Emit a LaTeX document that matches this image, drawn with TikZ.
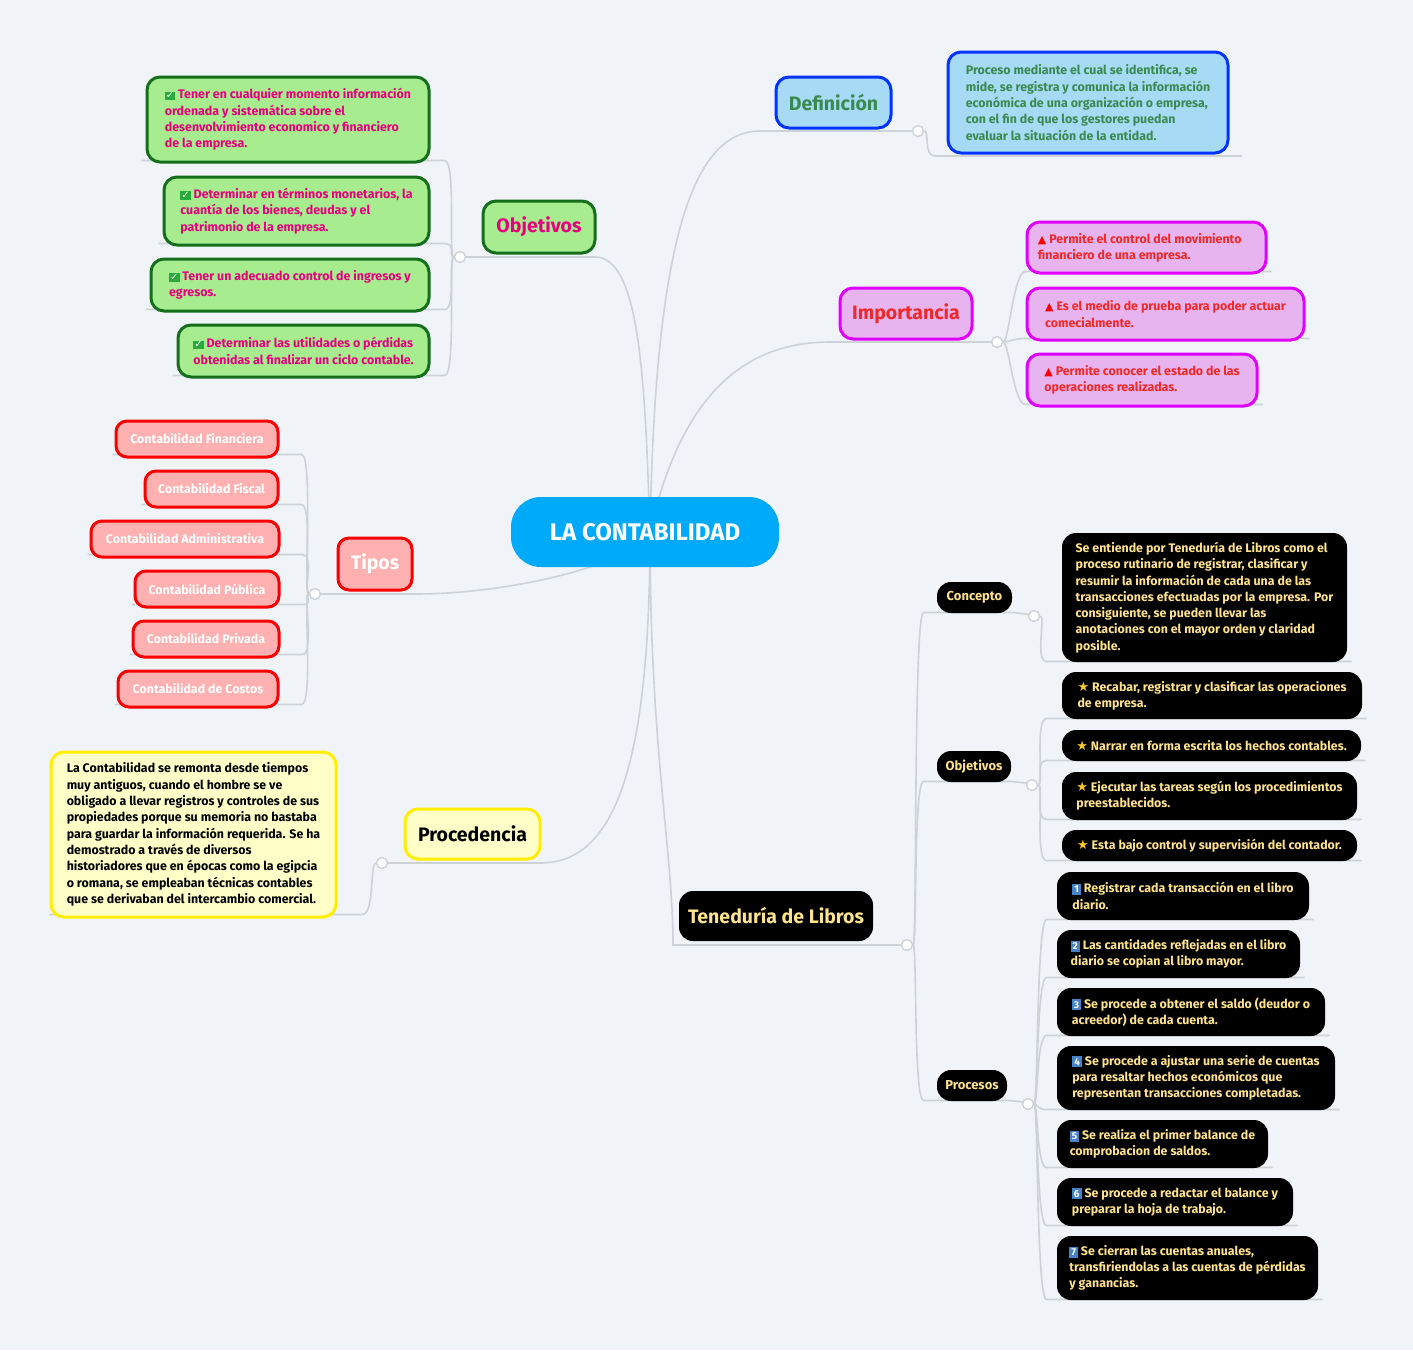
\documentclass[tikz,border=0pt]{standalone}
\usepackage{fontspec}
\setmainfont{Fira Sans}
\newfontfamily\dejavu{DejaVu Sans}
\usetikzlibrary{backgrounds}
\definecolor{bgcol}{RGB}{240,244,248}
\definecolor{linkcol}{RGB}{204,210,216}
\definecolor{centrecol}{RGB}{0,170,250}
\definecolor{deffill}{RGB}{166,218,245}
\definecolor{defline}{RGB}{0,51,255}
\definecolor{deftext}{RGB}{58,138,79}
\definecolor{impfill}{RGB}{232,180,240}
\definecolor{impline}{RGB}{224,0,255}
\definecolor{imptext}{RGB}{240,40,40}
\definecolor{objfill}{RGB}{168,236,144}
\definecolor{objline}{RGB}{20,110,26}
\definecolor{objtext}{RGB}{230,0,126}
\definecolor{tipfill}{RGB}{255,176,176}
\definecolor{tipline}{RGB}{250,0,0}
\definecolor{profill}{RGB}{255,255,200}
\definecolor{proline}{RGB}{255,238,0}
\definecolor{tentext}{RGB}{255,226,140}
\definecolor{chkgreen}{RGB}{40,170,60}
\definecolor{keyblue}{RGB}{70,130,200}
\definecolor{stargold}{RGB}{250,200,40}
\newcommand\chk{{\fboxsep=1pt\colorbox{chkgreen}{\textcolor{white}{\dejavu\fontsize{10}{10}\selectfont ✓}}}}
\newcommand\tri{\textcolor{red}{\dejavu\fontsize{11}{11}\selectfont ▲}}
\newcommand\str{\textcolor{stargold}{\dejavu\fontsize{13}{13}\selectfont ★}}
\newcommand\key[1]{{\fboxsep=2pt\colorbox{keyblue}{\textcolor{white}{\fontsize{10}{10}\selectfont #1}}}}
\tikzset{
  box/.style={rounded corners=13pt, line width=3pt, align=left, inner sep=0pt},
  small/.style={font=\fontsize{12.4}{16.3}\selectfont\bfseries},
  branch/.style={font=\fontsize{19.5}{20}\selectfont\bfseries, align=center},
  defbox/.style={box, fill=deffill, draw=defline, text=deftext},
  impbox/.style={box, fill=impfill, draw=impline, text=imptext},
  objbox/.style={box, fill=objfill, draw=objline, text=objtext},
  tipbox/.style={box, fill=tipfill, draw=tipline, text=white, rounded corners=11pt, align=center},
  probox/.style={box, fill=profill, draw=proline, text=black},
  tenbox/.style={box, fill=black, text=tentext, rounded corners=14pt},
  link/.style={draw=linkcol, line width=1.6pt},
  knot/.style={circle, draw=linkcol, fill=white, line width=1.4pt, minimum size=11pt, inner sep=0pt},
}
\begin{document}
\begin{tikzpicture}[x=1pt,y=-1pt]
\useasboundingbox (0,0) rectangle (1413,1350);
% central topic
\node[box, fill=centrecol, text=white, rounded corners=30pt, minimum width=268, minimum height=70, font=\fontsize{24}{25}\selectfont\bfseries, align=center] (main) at (645,532) {LA CONTABILIDAD};
% main branches
\node[defbox, branch, minimum width=115, minimum height=51] (def) at (833.5,102.5) {Definición};
\node[defbox, small, minimum width=280, minimum height=101] (defd) at (1088,102.5) {Proceso mediante el cual se identifica, se\\mide, se registra y comunica la información\\económica de una organización o empresa,\\con el fin de que los gestores puedan\\evaluar la situación de la entidad.};
\node[impbox, branch, minimum width=132, minimum height=51] (imp) at (906,313.5) {Importancia};
\node[impbox, small, minimum width=239, minimum height=51] (imp1) at (1146.5,247.5) {\tri\ Permite el control del movimiento\\financiero de una empresa.\hspace*{5.2em}};
\node[impbox, small, minimum width=277, minimum height=52] (imp2) at (1165.5,314) {\tri\ Es el medio de prueba para poder actuar\\comecialmente.\hspace*{12em}};
\node[impbox, small, minimum width=230, minimum height=52] (imp3) at (1142,380) {\tri\ Permite conocer el estado de las\\operaciones realizadas.\hspace*{5em}};
\node[objbox, branch, minimum width=112, minimum height=52] (obj) at (539,227) {Objetivos};
\node[objbox, small, minimum width=282, minimum height=85] (obj1) at (288,119.5) {\chk\ Tener en cualquier momento información\\ordenada y sistemática sobre el\\desenvolvimiento economico y financiero\\de la empresa.};
\node[objbox, small, minimum width=265, minimum height=68] (obj2) at (296.5,211) {\chk\ Determinar en términos monetarios, la\\cuantía de los bienes, deudas y el\\patrimonio de la empresa.};
\node[objbox, small, minimum width=278, minimum height=52] (obj3) at (290,285) {\chk\ Tener un adecuado control de ingresos y\\egresos.\hspace*{15em}};
\node[objbox, small, minimum width=251, minimum height=52] (obj4) at (303.5,351) {\chk\ Determinar las utilidades o pérdidas\\obtenidas al finalizar un ciclo contable.};
\node[tipbox, branch, minimum width=74, minimum height=52] (tip) at (375,564) {Tipos};
\node[tipbox, small, minimum width=162, minimum height=36] (tip1) at (197,439) {Contabilidad Financiera};
\node[tipbox, small, minimum width=133, minimum height=36] (tip2) at (211.5,489) {Contabilidad Fiscal};
\node[tipbox, small, minimum width=188, minimum height=36] (tip3) at (185,539) {Contabilidad Administrativa};
\node[tipbox, small, minimum width=144, minimum height=36] (tip4) at (207,589) {Contabilidad Pública};
\node[tipbox, small, minimum width=146, minimum height=36] (tip5) at (206,639) {Contabilidad Privada};
\node[tipbox, small, minimum width=160, minimum height=36] (tip6) at (198,689) {Contabilidad de Costos};
\node[probox, branch, minimum width=135, minimum height=50] (pro) at (472.5,834) {Procedencia};
\node[probox, small, minimum width=285, minimum height=165] (prod) at (193.5,834.5) {La Contabilidad se remonta desde tiempos\\muy antiguos, cuando el hombre se ve\\obligado a llevar registros y controles de sus\\propiedades porque su memoria no bastaba\\para guardar la información requerida. Se ha\\demostrado a través de diversos\\historiadores que en épocas como la egipcia\\o romana, se empleaban técnicas contables\\que se derivaban del intercambio comercial.};
\node[tenbox, branch, minimum width=194, minimum height=50] (ten) at (776,916) {Teneduría de Libros};
\node[tenbox, font=\fontsize{13}{14}\selectfont\bfseries, align=center, minimum width=75, minimum height=31] (con) at (974.5,597.5) {Concepto};
\node[tenbox, font=\fontsize{13}{14}\selectfont\bfseries, align=center, minimum width=74, minimum height=31] (tobj) at (974,766.5) {Objetivos};
\node[tenbox, font=\fontsize{13}{14}\selectfont\bfseries, align=center, minimum width=70, minimum height=31] (tpro) at (972,1085.5) {Procesos};
\node[tenbox, small, minimum width=285, minimum height=129] (cond) at (1204.5,597.5) {Se entiende por Teneduría de Libros como el\\proceso rutinario de registrar, clasificar y\\resumir la información de cada una de las\\transacciones efectuadas por la empresa. Por\\consiguiente, se pueden llevar las\\anotaciones con el mayor orden y claridad\\posible.};
\node[tenbox, small, minimum width=300, minimum height=47] (tobj1) at (1212,695.5) {\str\ Recabar, registrar y clasificar las operaciones\\de empresa.};
\node[tenbox, small, minimum width=299, minimum height=31] (tobj2) at (1211.5,745.5) {\str\ Narrar en forma escrita los hechos contables.};
\node[tenbox, small, minimum width=295, minimum height=48] (tobj3) at (1209.5,796) {\str\ Ejecutar las tareas según los procedimientos\\preestablecidos.};
\node[tenbox, small, minimum width=295, minimum height=31] (tobj4) at (1209.5,845.5) {\str\ Esta bajo control y supervisión del contador.};
\node[tenbox, small, minimum width=252, minimum height=48] (tpro1) at (1183,896) {\key{1} Registrar cada transacción en el libro\\diario.};
\node[tenbox, small, minimum width=243, minimum height=48] (tpro2) at (1178.5,954) {\key{2} Las cantidades reflejadas en el libro\\diario se copian al libro mayor.};
\node[tenbox, small, minimum width=268, minimum height=48] (tpro3) at (1191,1012) {\key{3} Se procede a obtener el saldo (deudor o\\acreedor) de cada cuenta.};
\node[tenbox, small, minimum width=278, minimum height=64] (tpro4) at (1196,1078) {\key{4} Se procede a ajustar una serie de cuentas\\para resaltar hechos económicos que\\representan transacciones completadas.};
\node[tenbox, small, minimum width=211, minimum height=48] (tpro5) at (1162.5,1144) {\key{5} Se realiza el primer balance de\\comprobacion de saldos.};
\node[tenbox, small, minimum width=236, minimum height=48] (tpro6) at (1175,1202) {\key{6} Se procede a redactar el balance y\\preparar la hoja de trabajo.};
\node[tenbox, small, minimum width=261, minimum height=64] (tpro7) at (1187.5,1268) {\key{7} Se cierran las cuentas anuales,\\transfiriendolas a las cuentas de pérdidas\\y ganancias.};
% knots
\node[knot] (defk) at (918,131) {};
\node[knot] (impk) at (997,342) {};
\node[knot] (objk) at (460,257) {};
\node[knot] (tipk) at (315,594) {};
\node[knot] (prok) at (382,863) {};
\node[knot] (tenk) at (907,945) {};
\node[knot] (conk) at (1034,616) {};
\node[knot] (tobjk) at (1032,785) {};
\node[knot] (tprok) at (1028,1104) {};
\coordinate (hub) at (650,532);
\begin{scope}[on background layer]
\fill[bgcol] (0,0) rectangle (1413,1350);
% trunks
\draw[link] (hub) .. controls (655,250) and (690,131) .. (760,131) -- (defk);
\draw[link] (hub) .. controls (680,400) and (740,342) .. (830,342) -- (impk);
\draw[link] (hub) .. controls (645,380) and (640,257) .. (595,257) -- (objk);
\draw[link] (hub) .. controls (640,560) and (520,594) .. (415,594) -- (tipk);
\draw[link] (hub) .. controls (650,780) and (610,863) .. (540,863) -- (prok);
\draw[link] (hub) .. controls (650,750) and (673,850) .. (673,945) -- (tenk);
% second level
\draw[link] (defk) .. controls +(12,0) and +(-12,0) .. (935,156) -- (1242,156);
\foreach \c in {imp1,imp2,imp3}
  \draw[link] (impk) .. controls +(12,0) and +(-12,0) .. ([yshift=3pt]\c.south west) -- ([xshift=4pt,yshift=3pt]\c.south east);
\foreach \c in {obj1,obj2,obj3,obj4}
  \draw[link] (objk) .. controls +(-12,0) and +(12,0) .. ([xshift=14pt,yshift=3pt]\c.south east) -- ([xshift=-4pt,yshift=3pt]\c.south west);
\foreach \c in {tip1,tip2,tip3,tip4,tip5,tip6}
  \draw[link] (tipk) .. controls +(-12,0) and +(12,0) .. ([xshift=22pt,yshift=4pt]\c.south east) -- ([xshift=-2pt,yshift=4pt]\c.south west);
\draw[link] (prok) .. controls +(-12,0) and +(12,0) .. ([xshift=25pt,yshift=4pt]prod.south east) -- ([yshift=4pt]prod.south west);
\foreach \c in {con,tobj,tpro}
  \draw[link] (tenk) .. controls +(10,0) and +(-10,0) .. ([xshift=-12pt,yshift=2pt]\c.south west) -- ([yshift=2pt]\c.south east) -- (\c.south east -| 1030,0);
\draw[link] (conk) .. controls +(12,0) and +(-12,0) .. ([xshift=-14pt,yshift=2pt]cond.south west) -- ([xshift=3pt,yshift=2pt]cond.south east);
\foreach \c in {tobj1,tobj2,tobj3,tobj4}
  \draw[link] (tobjk) .. controls +(12,0) and +(-12,0) .. ([xshift=-14pt,yshift=2pt]\c.south west) -- ([xshift=3pt,yshift=2pt]\c.south east);
\foreach \c in {tpro1,tpro2,tpro3,tpro4,tpro5,tpro6,tpro7}
  \draw[link] (tprok) .. controls +(10,0) and +(-10,0) .. ([xshift=-9pt,yshift=2pt]\c.south west) -- ([xshift=3pt,yshift=2pt]\c.south east);
\end{scope}
\end{tikzpicture}
\end{document}
